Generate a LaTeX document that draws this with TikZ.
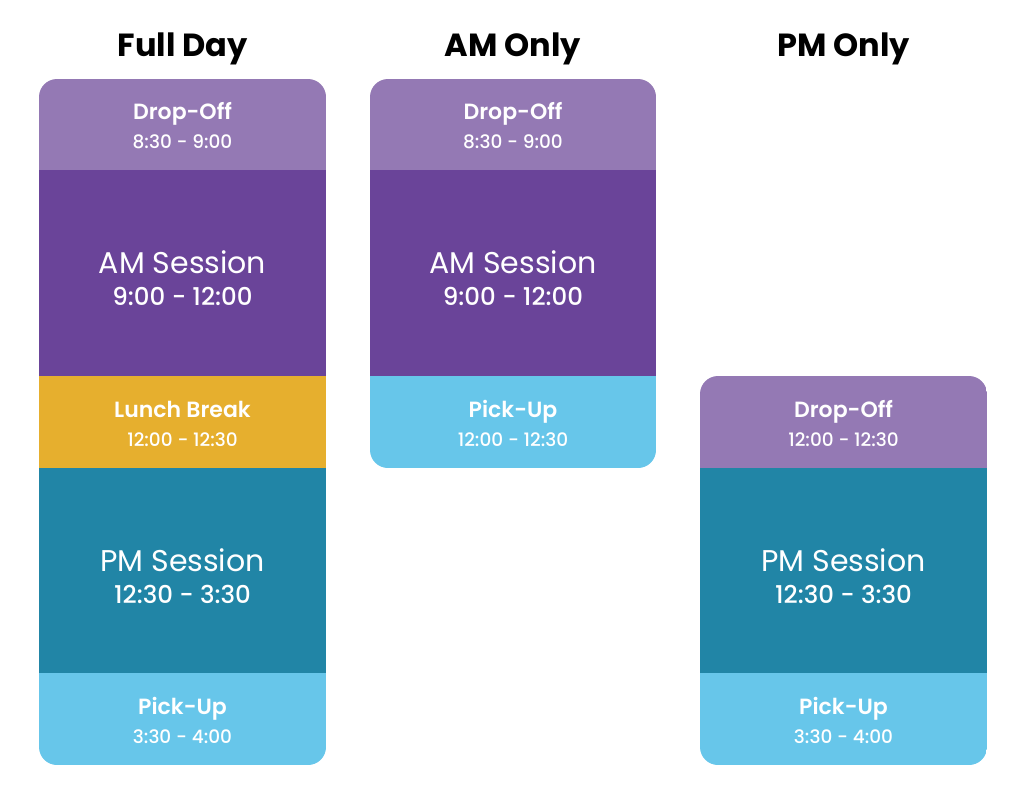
\documentclass[tikz,border=0pt]{standalone}
\usepackage{fontspec}
\setmainfont{Poppins}
\newfontfamily\pmed{Poppins Medium}
\newfontfamily\psemi{Poppins SemiBold}
\definecolor{dropc}{HTML}{9479B4}
\definecolor{amc}{HTML}{6A4499}
\definecolor{lunchc}{HTML}{E6AF2E}
\definecolor{pmc}{HTML}{2185A6}
\definecolor{pickc}{HTML}{67C6EA}
\begin{document}
\begin{tikzpicture}[x=1pt,y=-1pt,
  band/.style={draw=none,inner sep=0pt,outer sep=0pt,minimum width=287pt,anchor=north west},
  title/.style={font=\fontsize{32}{36}\selectfont\bfseries,text=black,anchor=base},
  lbl/.style={font=\fontsize{22}{26}\selectfont\psemi,text=white,anchor=base},
  tim/.style={font=\fontsize{18.5}{22}\selectfont\pmed,text=white,anchor=base},
  biglbl/.style={font=\fontsize{30}{34}\selectfont,text=white,anchor=base},
  bigtim/.style={font=\fontsize{24.5}{28}\selectfont\pmed,text=white,anchor=base}]
\useasboundingbox (0,0) rectangle (1024,804);
% titles
\node[title] (t1) at (182.5,56) {Full Day};
\node[title] (t2) at (513,56) {AM Only};
\node[title] (t3) at (843.5,56) {PM Only};
% Full Day column
\begin{scope}
\clip[rounded corners=18pt] (39,79) rectangle (326,765);
\node[band,fill=dropc,minimum height=91pt] (f1) at (39,79) {};
\node[band,fill=amc,minimum height=206pt] (f2) at (39,170) {};
\node[band,fill=lunchc,minimum height=92pt] (f3) at (39,376) {};
\node[band,fill=pmc,minimum height=205pt] (f4) at (39,468) {};
\node[band,fill=pickc,minimum height=92pt] (f5) at (39,673) {};
\end{scope}
\node[lbl] (f1a) at (182.5,119) {Drop-Off};
\node[tim] (f1b) at (182.5,148) {8:30 - 9:00};
\node[biglbl] (f2a) at (182.5,273) {AM Session};
\node[bigtim] (f2b) at (182.5,305) {9:00 - 12:00};
\node[lbl] (f3a) at (182.5,417) {Lunch Break};
\node[tim] (f3b) at (182.5,446) {12:00 - 12:30};
\node[biglbl] (f4a) at (182.5,571) {PM Session};
\node[bigtim] (f4b) at (182.5,603) {12:30 - 3:30};
\node[lbl] (f5a) at (182.5,714) {Pick-Up};
\node[tim] (f5b) at (182.5,743) {3:30 - 4:00};
% AM Only column
\begin{scope}
\clip[rounded corners=18pt] (370,79) rectangle (656,468);
\node[band,fill=dropc,minimum height=91pt] (a1) at (370,79) {};
\node[band,fill=amc,minimum height=206pt] (a2) at (370,170) {};
\node[band,fill=pickc,minimum height=92pt] (a3) at (370,376) {};
\end{scope}
\node[lbl] (a1a) at (513,119) {Drop-Off};
\node[tim] (a1b) at (513,148) {8:30 - 9:00};
\node[biglbl] (a2a) at (513,273) {AM Session};
\node[bigtim] (a2b) at (513,305) {9:00 - 12:00};
\node[lbl] (a3a) at (513,417) {Pick-Up};
\node[tim] (a3b) at (513,446) {12:00 - 12:30};
% PM Only column
\begin{scope}
\clip[rounded corners=18pt] (700,376) rectangle (987,765);
\node[band,fill=dropc,minimum height=92pt] (p1) at (700,376) {};
\node[band,fill=pmc,minimum height=205pt] (p2) at (700,468) {};
\node[band,fill=pickc,minimum height=92pt] (p3) at (700,673) {};
\end{scope}
\node[lbl] (p1a) at (843.5,417) {Drop-Off};
\node[tim] (p1b) at (843.5,446) {12:00 - 12:30};
\node[biglbl] (p2a) at (843.5,571) {PM Session};
\node[bigtim] (p2b) at (843.5,603) {12:30 - 3:30};
\node[lbl] (p3a) at (843.5,714) {Pick-Up};
\node[tim] (p3b) at (843.5,743) {3:30 - 4:00};
\end{tikzpicture}
\end{document}
